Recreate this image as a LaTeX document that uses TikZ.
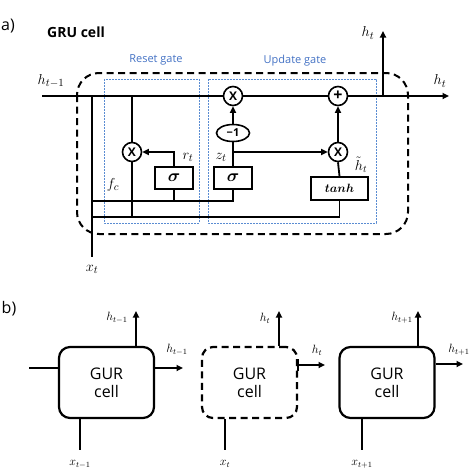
\documentclass[tikz,border=0pt]{standalone}
\usepackage{fontspec}
\setsansfont{Open Sans}
\usepackage{bm}
\usetikzlibrary{arrows.meta,shapes.geometric}
\definecolor{gateblue}{RGB}{68,114,196}
\definecolor{gateline}{RGB}{90,140,210}
\begin{document}
\begin{tikzpicture}[x=1pt,y=-1pt, line width=1.8pt, >={Triangle[length=6.5pt,width=6pt]},
  op/.style={circle, draw, line width=1.6pt, minimum size=19pt, inner sep=0pt, font=\sffamily\bfseries\fontsize{12}{12}\selectfont},
  fnbox/.style={draw, rectangle, line width=1.6pt, minimum width=38pt, minimum height=22pt, inner sep=0pt, font=\fontsize{16}{16}\selectfont},
  gate/.style={draw=gateline, dash pattern=on 1.6pt off 1.4pt, line width=0.8pt},
  gatelbl/.style={text=gateblue, font=\sffamily\fontsize{11}{11}\selectfont, inner sep=0pt},
  lbl/.style={inner sep=0pt, font=\fontsize{15}{15}\selectfont},
  slbl/.style={inner sep=0pt, font=\fontsize{12}{12}\selectfont},
  cellbox/.style={draw, rounded corners=11pt, line width=2.2pt, minimum width=95pt, minimum height=71pt, font=\sffamily\fontsize{16}{18}\selectfont, align=center, inner sep=0pt},
  outer/.style={dash pattern=on 7pt off 4.5pt, line width=2pt, rounded corners=22pt}
]
\useasboundingbox (0,0) rectangle (474,474);

% ---------- part a ----------
\node[font=\sffamily\fontsize{16}{16}\selectfont, inner sep=0pt] (la) at (8,26) {a)};
\node[font=\sffamily\bfseries\fontsize{14}{14}\selectfont, inner sep=0pt] (title) at (76,32) {GRU cell};

\draw[outer] (77,73) rectangle (408,234);
\draw[gate] (104,79) rectangle (199,223);
\draw[gate] (208,79) rectangle (376,223);
\node[gatelbl] (rg) at (156,60) {Reset gate};
\node[gatelbl] (ug) at (295,61) {Update gate};

\node[op] (m1) at (132,152) {X};
\node[op] (m2) at (233,96) {X};
\node[op] (m3) at (338,152) {X};
\node[op, font=\sffamily\bfseries\fontsize{16}{16}\selectfont] (p1) at (338,96) {+};
\node[fnbox] (s1) at (174,178) {$\bm{\sigma}$};
\node[fnbox] (s2) at (233,178) {$\bm{\sigma}$};
\node[fnbox, minimum width=57pt, minimum height=23pt, font=\fontsize{13}{13}\selectfont] (th) at (339.5,188.5) {$\bm{tanh}$};
\node[ellipse, draw, line width=1.6pt, minimum width=33pt, minimum height=17pt, inner sep=0pt, font=\sffamily\bfseries\fontsize{11}{11}\selectfont] (neg) at (233,133) {−1};

\coordinate (hin) at (42,96);
\coordinate (hout) at (449,96);
\coordinate (hj) at (383,96);
\coordinate (hup) at (383,31);
\coordinate (xtop) at (92,96);
\coordinate (xbot) at (92,257);
\coordinate (mtop) at (132,96);
\coordinate (rowA) at (92,201);
\coordinate (rowB) at (92,217);
\coordinate (zbr) at (233,152);

\draw (hin) -- (m2.west);
\draw (m2.east) -- (p1.west);
\draw[->] (p1.east) -- (hout);
\draw[->] (hj) -- (hup);
\draw (xtop) -- (xbot);
\draw (mtop) -- (m1.north);
\draw (m1.south) -- (m1.south |- rowB);
\draw (rowA) -| (s2.south);
\draw (s1.south) -- (s1.south |- rowA);
\draw (rowB) -| (th.south);
\draw[->] (s1.north) |- (m1.east);
\draw (s2.north) -- (neg.south);
\draw[->] (neg.north) -- (m2.south);
\draw[->] (zbr) -- (m3.west);
\draw (th.north) -- (m3.south);
\draw[->] (m3.north) -- (p1.south);

\node[lbl] (lhin) at (51,81) {$h_{t-1}$};
\node[lbl] (lhout) at (440,81) {$h_t$};
\node[lbl] (lhup) at (368,33) {$h_t$};
\node[lbl] (lxt) at (92,269) {$x_t$};
\node[lbl] (lfc) at (113,185) {$f_c$};
\node[lbl] (lrt) at (188,157) {$r_t$};
\node[lbl] (lzt) at (221,157) {$z_t$};
\node[lbl, font=\fontsize{14}{14}\selectfont] (lht) at (361,165) {$\tilde{h}_t$};

% ---------- part b ----------
\node[font=\sffamily\fontsize{16}{16}\selectfont, inner sep=0pt] (lb) at (9,309) {b)};

\node[cellbox] (c1) at (106.5,382.5) {GUR\\cell};
\node[cellbox, dash pattern=on 7pt off 4.5pt] (c2) at (249.5,382.5) {GUR\\cell};
\node[cellbox] (c3) at (387,382.5) {GUR\\cell};

\coordinate (in1) at (29,368);
\draw (in1) -- (in1 -| c1.west);
\coordinate (o1) at (136,311);
\draw[->] (o1 |- c1.north) -- (o1);
\coordinate (r1) at (183,368);
\draw[->] (r1 -| c1.east) -- (r1);
\coordinate (i1) at (80,450);
\draw (i1 |- c1.south) -- (i1);

\coordinate (o2) at (279,311);
\draw[->] (o2 |- c2.north) -- (o2);
\coordinate (r2) at (325,365);
\draw[->] (r2 -| c2.east) -- (r2);
\draw (298,359) -- (298,371);
\coordinate (i2) at (225,450);
\draw (i2 |- c2.south) -- (i2);

\coordinate (o3) at (418,311);
\draw[->] (o3 |- c3.north) -- (o3);
\coordinate (r3) at (463,364);
\draw[->] (r3 -| c3.east) -- (r3);
\coordinate (i3) at (362,450);
\draw (i3 |- c3.south) -- (i3);

\node[slbl] (b1) at (117,318) {$h_{t-1}$};
\node[slbl] (b2) at (177,350) {$h_{t-1}$};
\node[slbl] (b3) at (80,464) {$x_{t-1}$};
\node[slbl] (b4) at (265,318) {$h_t$};
\node[slbl] (b5) at (317,350) {$h_t$};
\node[slbl] (b6) at (225,464) {$x_t$};
\node[slbl] (b7) at (402,318) {$h_{t+1}$};
\node[slbl] (b8) at (459,350) {$h_{t+1}$};
\node[slbl] (b9) at (362,464) {$x_{t+1}$};
\end{tikzpicture}
\end{document}
